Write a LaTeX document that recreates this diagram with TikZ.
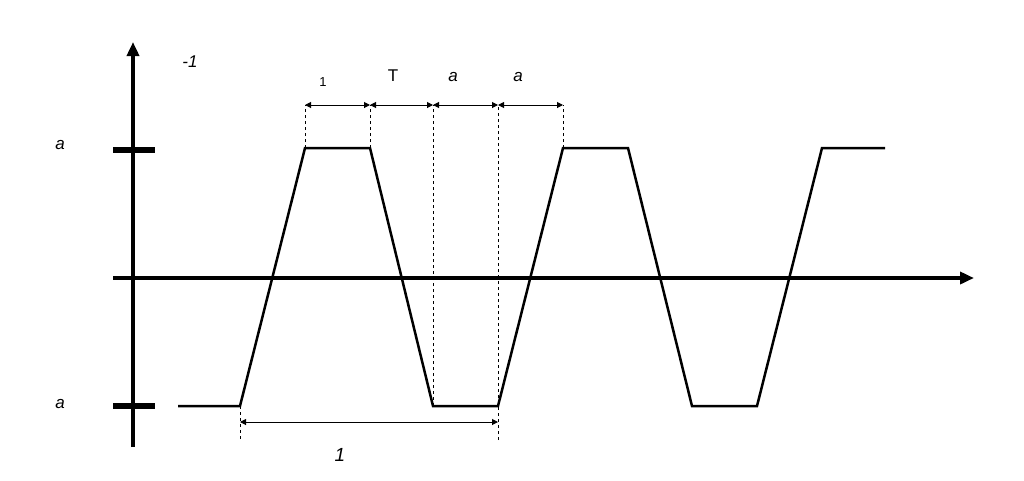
\documentclass[tikz,border=0pt]{standalone}
\usepackage{fontspec}
\setmainfont{Liberation Sans}
\usetikzlibrary{arrows.meta}
\begin{document}
\begin{tikzpicture}[x=1pt,y=-1pt,
  axis/.style={line width=4pt,-{Triangle[length=14pt,width=12pt]}},
  tick/.style={line width=6pt},
  wave/.style={line width=2.5pt,line join=miter},
  guide/.style={dashed,line width=0.6pt},
  dim/.style={line width=1pt,{Triangle[length=6pt,width=6pt]}-{Triangle[length=6pt,width=6pt]}},
  lab/.style={font=\fontsize{17}{17}\selectfont}]
\useasboundingbox (0,0) rectangle (1024,480);
\coordinate (yb) at (133,447); \coordinate (yt) at (133,42);
\coordinate (xl) at (113,278); \coordinate (xr) at (974,278);
\draw[axis] (yb) -- (yt);
\draw[axis] (xl) -- (xr);
\draw[tick] (113,150) -- (155,150);
\draw[tick] (113,406) -- (155,406);
\node[lab,font=\fontsize{17}{17}\selectfont\itshape] (la1) at (60,145) {a};
\node[lab,font=\fontsize{17}{17}\selectfont\itshape] (la2) at (60,404) {a};
\node[lab,font=\fontsize{17}{17}\selectfont\itshape] (lm1) at (190,62) {-1};
\draw[wave] (178,406) -- (240,406) -- (305,148) -- (370,148) -- (433,406) -- (498,406) -- (563,148) -- (628,148) -- (692,406) -- (757,406) -- (822,148) -- (885,148);
\draw[guide] (305,148) -- (305,105);
\draw[guide] (370,148) -- (370,105);
\draw[guide] (433,406) -- (433,105);
\draw[guide] (498,440) -- (498,105);
\draw[guide] (563,148) -- (563,105);
\draw[guide] (240,406) -- (240,440);
\coordinate (d1) at (305,105); \coordinate (d2) at (370,105); \coordinate (d3) at (433,105);
\coordinate (d4) at (498,105); \coordinate (d5) at (563,105);
\draw[dim] (d1) -- (d2);
\draw[dim] (d2) -- (d3);
\draw[dim] (d3) -- (d4);
\draw[dim] (d4) -- (d5);
\coordinate (b1) at (240,422); \coordinate (b2) at (498,422);
\draw[dim] (b1) -- (b2);
\node[font=\fontsize{13}{13}\selectfont] (t1) at (323,82) {1};
\node[lab] (tT) at (393,76) {T};
\node[lab,font=\fontsize{17}{17}\selectfont\itshape] (ta1) at (453,77) {a};
\node[lab,font=\fontsize{17}{17}\selectfont\itshape] (ta2) at (518,77) {a};
\node[lab,font=\fontsize{19}{19}\selectfont\itshape] (tb) at (340,455) {1};
\end{tikzpicture}
\end{document}
